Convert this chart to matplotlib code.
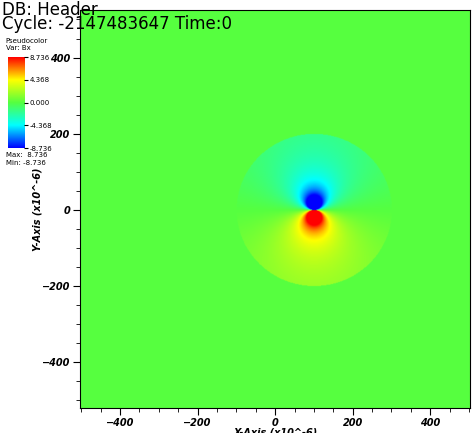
import numpy as np
import matplotlib
matplotlib.use("Agg")
import matplotlib.pyplot as plt
from matplotlib.colors import LinearSegmentedColormap

# field model: line-current Bx inside a disc
center = (100.0, 0.0)
radius = 200.0
strength = 350.0
vmin, vmax = -8.736, 8.736
cbar_ticks = [8.736, 4.368, 0.000, -4.368, -8.736]
cbar_labels = ["8.736", "4.368", "0.000", "-4.368", "-8.736"]
axis_ticks = [-400, -200, 0, 200, 400]

cmap = LinearSegmentedColormap.from_list(
    "hot5", ["#0000ff", "#00ffff", "#55ff40", "#ffff00", "#ff0000"])

n = 600
xs = np.linspace(-520, 530, n)
X, Y = np.meshgrid(xs, xs)
dx, dy = X - center[0], Y - center[1]
r2 = dx**2 + dy**2 + 1e-6
bx = -strength * dy / r2
bx = np.clip(bx, vmin, vmax)
bx[r2 > radius**2] = 0.0

fig = plt.figure(figsize=(4.74, 4.33), dpi=100)
ax = fig.add_axes([0.169, 0.058, 0.823, 0.919])
ax.imshow(bx, origin="lower", extent=[-520, 530, -520, 530], cmap=cmap,
          vmin=vmin, vmax=vmax, interpolation="bilinear", aspect="auto")
ax.set_xlim(-503, 503)
ax.set_ylim(-520, 525)
ax.set_xticks(axis_ticks)
ax.set_yticks(axis_ticks)
ax.minorticks_on()
for lab in ax.get_xticklabels() + ax.get_yticklabels():
    lab.set_fontsize(7)
    lab.set_fontweight("bold")
    lab.set_fontstyle("italic")
ax.tick_params(which="both", direction="out", length=3, pad=2)
ax.tick_params(which="major", length=5)
ax.set_xlabel("X-Axis (x10^-6)", fontsize=7, fontweight="bold", style="italic", labelpad=0)
ax.set_ylabel("Y-Axis (x10^-6)", fontsize=7, fontweight="bold", style="italic", labelpad=0)

fig.text(0.005, 0.997, "DB: Header", fontsize=12, va="top")
fig.text(0.005, 0.965, "Cycle: -2147483647 Time:0", fontsize=12, va="top")
fig.text(0.012, 0.912, "Pseudocolor", fontsize=5, va="top")
fig.text(0.012, 0.896, "Var: Bx", fontsize=5, va="top")

cax = fig.add_axes([0.017, 0.658, 0.034, 0.21])
grad = np.linspace(vmin, vmax, 256).reshape(-1, 1)
cax.imshow(grad, origin="lower", cmap=cmap, aspect="auto",
           extent=[0, 1, vmin, vmax])
cax.set_xticks([])
cax.yaxis.tick_right()
cax.set_yticks(cbar_ticks)
cax.set_yticklabels(cbar_labels, fontsize=5)
cax.tick_params(length=3, pad=1)
for s in cax.spines.values():
    s.set_visible(False)

fig.text(0.012, 0.648, "Max:  8.736", fontsize=5, va="top")
fig.text(0.012, 0.630, "Min: -8.736", fontsize=5, va="top")

fig.savefig("out.png", dpi=100)
